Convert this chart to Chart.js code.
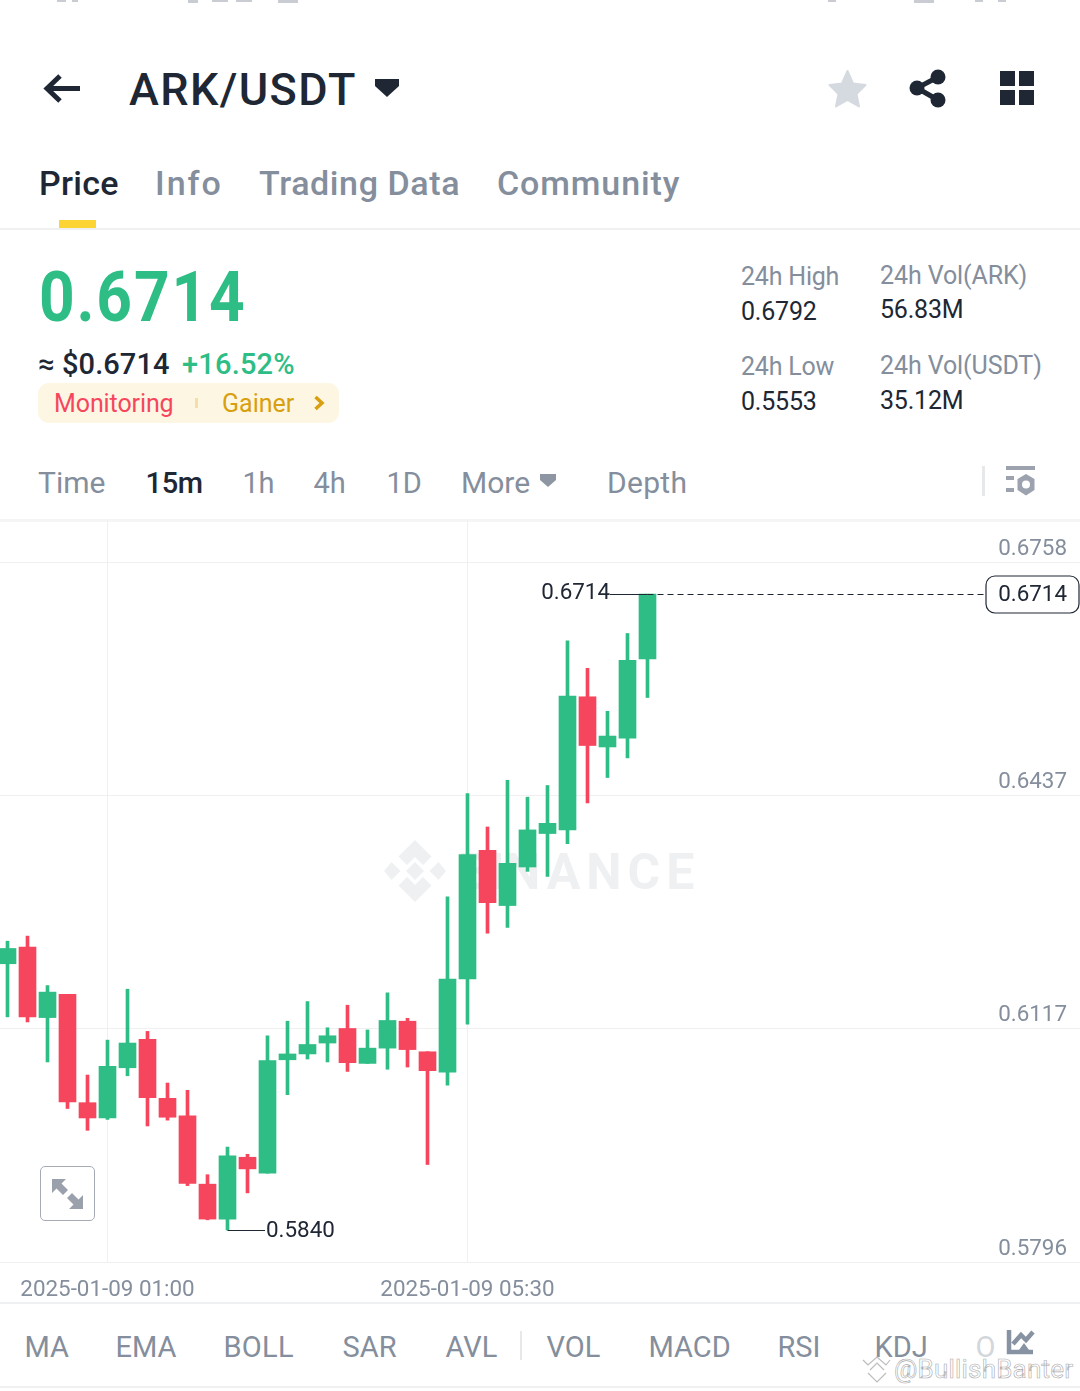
<!DOCTYPE html>
<html>
<head>
<meta charset="utf-8">
<title>ARK/USDT</title>
<script src="https://cdn.jsdelivr.net/npm/chart.js@4"></script>
<style>
  html, body { margin: 0; padding: 0; background: #fff; }
  #page { position: relative; width: 1080px; height: 1391px; overflow: hidden; background: #fff; font-family: Roboto, sans-serif; }
  .t { position: absolute; white-space: nowrap; line-height: 40px; height: 40px; color: #848E9C; }
  .d { color: #202734; }
  .g { color: #2EBD85; }
  .tab { font-size: 34px; font-weight: 500; letter-spacing: 0.6px; }
  .stat { font-size: 25px; }
  .per { font-size: 30px; }
  .per2 { font-size: 29px; }
  .ind { font-size: 29px; }
  .line { position: absolute; background: #EEF0F2; }
  svg { position: absolute; overflow: visible; }
  #chart { position: absolute; left: 0; top: 520px; z-index: 2; }
  #wm { position: absolute; left: 0; top: 0; z-index: 1; }
  #btn { position: absolute; left: 40px; top: 1166px; width: 53px; height: 53px; border: 1.5px solid #A5ABB6; border-radius: 5px; background: #fff; z-index: 3; }
</style>
</head>
<body>
<div id="page">
  <!-- clipped status bar -->
  <svg style="left:0;top:0" width="1080" height="4">
    <g fill="#C9CCD2">
      <rect x="57" y="0" width="9" height="2"/><rect x="72" y="0" width="6" height="2"/>
      <rect x="188" y="0" width="10" height="3"/><rect x="212" y="0" width="16" height="2"/><rect x="236" y="0" width="16" height="2"/>
      <rect x="278" y="0" width="20" height="3"/><rect x="828" y="0" width="8" height="2"/>
      <rect x="914" y="0" width="20" height="3"/><rect x="975" y="0" width="8" height="2"/><rect x="998" y="0" width="8" height="2"/>
    </g>
  </svg>

  <!-- header -->
  <svg style="left:0;top:0" width="1080" height="130">
    <path d="M80 88.5H48M60 76L47 88.5L60 101" fill="none" stroke="#202734" stroke-width="5"/>
    <path d="M375 79H399V86L387 97L375 86Z" fill="#202734"/>
    <path d="M847.5 71L853 83.500L865.500 85L856.500 94L859 106.500L847.5 100L836 106.500L838.500 94L829.500 85L842 83.500Z" fill="#D5D9E0" stroke="#D5D9E0" stroke-width="2" stroke-linejoin="round"/>
    <g fill="#202734"><circle cx="938" cy="77" r="7.500"/><circle cx="917" cy="88" r="7.500"/><circle cx="938" cy="100" r="7.500"/></g>
    <path d="M938 77L917 88L938 100" fill="none" stroke="#202734" stroke-width="5"/>
    <g fill="#202734"><rect x="1000" y="71" width="15" height="15"/><rect x="1019" y="71" width="15" height="15"/><rect x="1000" y="90" width="15" height="15"/><rect x="1019" y="90" width="15" height="15"/></g>
  </svg>
  <span class="t d" style="left:129px;top:70px;font-size:45px;font-weight:500;letter-spacing:1.400px">ARK/USDT</span>

  <span class="t d tab" style="left:39px;top:163px;letter-spacing:0.3px">Price</span>
  <span class="t tab" style="left:155px;top:163px;letter-spacing:2px">Info</span>
  <span class="t tab" style="left:259px;top:163px">Trading Data</span>
  <span class="t tab" style="left:497px;top:163px;letter-spacing:0.9px">Community</span>
  <div class="line" style="left:59px;top:220px;width:37px;height:8px;background:#FCD535"></div>
  <div class="line" style="left:0;top:228px;width:1080px;height:1.500px"></div>

  <!-- price block -->
  <span class="t g" style="left:39px;top:277px;font-size:70px;font-weight:700;letter-spacing:2px;transform:scaleX(0.89);transform-origin:left center">0.6714</span>
  <span class="t d" style="left:38px;top:344px;font-size:29px;font-weight:500;letter-spacing:0.100px">≈ $0.6714</span>
  <span class="t g" style="left:182px;top:344px;font-size:29px;font-weight:500;letter-spacing:0.200px">+16.52%</span>
  <div class="line" style="left:38px;top:383px;width:301px;height:40px;border-radius:11px;background:#FDF6E3"></div>
  <span class="t" style="left:54px;top:384px;font-size:25px;letter-spacing:-0.1px;color:#F6465D">Monitoring</span>
  <div class="line" style="left:195px;top:398px;width:3px;height:10px;background:#F5DFA6"></div>
  <span class="t" style="left:222px;top:384px;font-size:25px;color:#D89F0E">Gainer</span>
  <svg style="left:0;top:380px" width="340" height="50"><path d="M315.500 17L322 23L315.500 29" fill="none" stroke="#D89F0E" stroke-width="3.500"/></svg>

  <span class="t stat" style="left:741px;top:257px;letter-spacing:-0.2px">24h High</span>
  <span class="t stat d" style="left:741px;top:292px;letter-spacing:-0.2px">0.6792</span>
  <span class="t stat" style="left:880px;top:256px;letter-spacing:-0.1px">24h Vol(ARK)</span>
  <span class="t stat d" style="left:880px;top:290px;letter-spacing:-0.2px">56.83M</span>
  <span class="t stat" style="left:741px;top:347px;letter-spacing:-0.2px">24h Low</span>
  <span class="t stat d" style="left:741px;top:382px;letter-spacing:-0.2px">0.5553</span>
  <span class="t stat" style="left:880px;top:346px;letter-spacing:-0.1px">24h Vol(USDT)</span>
  <span class="t stat d" style="left:880px;top:381px;letter-spacing:-0.2px">35.12M</span>

  <!-- period selector -->
  <span class="t per" style="left:38px;top:463px">Time</span>
  <span class="t per2 d" style="left:145.500px;top:463px;font-weight:500;letter-spacing:-0.3px">15m</span>
  <span class="t per2" style="left:242.500px;top:463px;letter-spacing:-0.3px">1h</span>
  <span class="t per2" style="left:313.500px;top:463px">4h</span>
  <span class="t per2" style="left:386.500px;top:463px">1D</span>
  <span class="t per" style="left:461px;top:463px">More</span>
  <span class="t per" style="left:607px;top:463px;letter-spacing:0.3px">Depth</span>
  <svg style="left:0;top:460px" width="1080" height="40">
    <path d="M540 14H556V20L548 27L540 20Z" fill="#8F96A3"/>
    <rect x="982" y="6" width="3" height="30" fill="#E6E8EA"/>
    <g fill="#9CA3AF">
      <rect x="1006" y="6" width="29" height="4"/><rect x="1006" y="16" width="8" height="4"/><rect x="1006" y="28" width="8" height="4"/>
      <path d="M1026 14L1034.500 19V30L1026 35.500L1017.500 30V19ZM1026 20.500A4 4 0 1 0 1026 28.500A4 4 0 1 0 1026 20.500Z" fill-rule="evenodd"/>
    </g>
  </svg>
  <div class="line" style="left:0;top:519px;width:1080px;height:3px;background:#F5F5F5"></div>

  <!-- watermark behind the candles -->
  <svg id="wm" width="1080" height="1391">
    <g fill="#EEF0F2">
      <path d="M415 840L431.500 856.500L423 865L415 857L407 865L398.500 856.500Z"/>
      <path d="M415 902L431.500 885.500L423 877L415 885L407 877L398.500 885.500Z"/>
      <path d="M415 862L424 871L415 880L406 871Z"/>
      <path d="M391.500 862L400.500 871L391.500 880L384 871Z"/>
      <path d="M438.500 862L446 871L438.500 880L429.500 871Z"/>
    </g>
    <text x="458" y="888.500" font-family="Roboto" font-weight="700" font-size="50" fill="#EEF0F2">BI</text>
    <text x="505" y="888.500" font-family="Roboto" font-weight="700" font-size="50" letter-spacing="6" fill="#EEF0F2">NANCE</text>
  </svg>

  <canvas id="chart" width="1080" height="782"></canvas>

  <div id="btn"></div>
  <svg style="left:0;top:0;z-index:4" width="120" height="1240">
    <g fill="#9AA1AD">
      <path d="M52 1179H66L61.500 1183.500L68 1190L63 1195L56.500 1188.500L52 1193Z"/>
      <path d="M83 1209H69L73.500 1204.500L67 1198L72 1193L78.500 1199.500L83 1195Z"/>
    </g>
  </svg>

  <!-- indicator bar -->
  <div class="line" style="left:0;top:1302px;width:1080px;height:1.500px"></div>
  <div class="line" style="left:0;top:1386px;width:1080px;height:1.500px"></div>
  <div class="line" style="left:520px;top:1331px;width:1.500px;height:29px;background:#E6E8EA"></div>
  <span class="t ind" style="left:24.500px;top:1327px">MA</span>
  <span class="t ind" style="left:115.500px;top:1327px">EMA</span>
  <span class="t ind" style="left:223.500px;top:1327px;letter-spacing:0.3px">BOLL</span>
  <span class="t ind" style="left:342.500px;top:1327px">SAR</span>
  <span class="t ind" style="left:445.500px;top:1327px">AVL</span>
  <span class="t ind" style="left:546.500px;top:1327px">VOL</span>
  <span class="t ind" style="left:648.500px;top:1327px">MACD</span>
  <span class="t ind" style="left:777.500px;top:1327px">RSI</span>
  <span class="t ind" style="left:874.500px;top:1327px">KDJ</span>
  <span class="t ind" style="left:975.500px;top:1327px;color:#D3D6DB">O</span>
  <svg style="left:0;top:1320px" width="1080" height="40">
    <path d="M1009 10V32H1033M1013 24L1021 15L1026 20L1033 12" fill="none" stroke="#8792A2" stroke-width="4.500"/>
    <path d="M1019 30L1024 23L1029 30Z" fill="#8792A2"/>
  </svg>
  <svg style="left:0;top:1350px;z-index:4" width="900" height="40">
    <g fill="none" stroke="#BDBDBD" stroke-width="1.200">
      <path d="M863 10L868 15L877 7L886 15L890 10M870 20L877 13L884 20M868 23L877 32L886 23"/>
    </g>
  </svg>
  <span class="t" style="left:894px;top:1349px;font-size:26px;color:#fff;-webkit-text-stroke:0.600px #ABABAB;letter-spacing:0.200px;z-index:4">@BullishBanter</span>
</div>

<script>
// 15m candles, oldest first
const opens = [0.6206, 0.6229, 0.6132, 0.6164, 0.6015, 0.5994, 0.6063, 0.6102, 0.6021, 0.5997, 0.5903,
  0.5855, 0.5940, 0.5918, 0.6074, 0.6082, 0.6097, 0.6117, 0.6069, 0.6090, 0.6127, 0.6085,
  0.6057, 0.6185, 0.6362, 0.6286, 0.6339, 0.6385, 0.6390, 0.6573, 0.6504, 0.6516, 0.6625];
const highs = [0.6237, 0.6244, 0.6176, 0.6164, 0.6053, 0.6101, 0.6171, 0.6113, 0.6042, 0.6032, 0.5916,
  0.5954, 0.5944, 0.6107, 0.6127, 0.6154, 0.6118, 0.6149, 0.6115, 0.6166, 0.6131, 0.6085,
  0.6298, 0.6440, 0.6394, 0.6458, 0.6435, 0.6451, 0.6650, 0.6612, 0.6553, 0.6660, 0.6714];
const lows = [0.6133, 0.6126, 0.6071, 0.6007, 0.5977, 0.5992, 0.6052, 0.5983, 0.5991, 0.5901, 0.5854,
  0.5840, 0.5891, 0.5918, 0.6026, 0.6075, 0.6071, 0.6058, 0.6069, 0.6061, 0.6064, 0.5930,
  0.6039, 0.6123, 0.6248, 0.6256, 0.6333, 0.6326, 0.6371, 0.6427, 0.6462, 0.6489, 0.6572];
const closes = [0.6227, 0.6133, 0.6167, 0.6016, 0.5994, 0.6065, 0.6097, 0.6022, 0.5995, 0.5904, 0.5855,
  0.5942, 0.5924, 0.6073, 0.6082, 0.6095, 0.6107, 0.6070, 0.6090, 0.6128, 0.6088, 0.6059,
  0.6185, 0.6356, 0.6290, 0.6344, 0.6390, 0.6399, 0.6574, 0.6506, 0.6519, 0.6623, 0.6714];

const priceTicks = [0.5796, 0.6117, 0.6437, 0.6758];
const timeTickIndex = [5, 23];
const timeTickLabels = ["2025-01-09 01:00", "2025-01-09 05:30"];

const lastPrice = 0.6714;
const highPrice = 0.6714;
const lowPrice = 0.5840;
const highIndex = 32;
const lowIndex = 11;

const UP = "#2EBD85";
const DOWN = "#F6465D";
const LABEL = "#848E9C";
const DARK = "#202734";
const FONT = "22.4px Roboto";

const candleIndex = opens.map((_, i) => i);
const candleColors = candleIndex.map((i) => (closes[i] >= opens[i] ? UP : DOWN));

// High / low callouts and the last price line with its pill
const markers = {
  id: "markers",
  afterDatasetsDraw(chart) {
    const { ctx, scales: { x, y } } = chart;
    const lastY = Math.round(y.getPixelForValue(lastPrice)) + 0.5;
    const highY = Math.round(y.getPixelForValue(highPrice)) + 0.5;
    const lowY = Math.round(y.getPixelForValue(lowPrice)) + 0.5;
    ctx.save();
    ctx.font = FONT;
    ctx.textBaseline = "middle";
    ctx.lineWidth = 1.2;

    ctx.strokeStyle = DARK;
    ctx.setLineDash([6, 4]);
    ctx.beginPath();
    ctx.moveTo(x.getPixelForValue(highIndex), lastY);
    ctx.lineTo(985, lastY);
    ctx.stroke();
    ctx.setLineDash([]);

    ctx.beginPath();
    ctx.roundRect(986, lastY - 18.5, 93, 37, 9);
    ctx.fillStyle = "#fff";
    ctx.fill();
    ctx.stroke();
    ctx.fillStyle = DARK;
    ctx.textAlign = "right";
    ctx.fillText(lastPrice.toFixed(4), 1067, lastY + 1);

    ctx.beginPath();
    ctx.moveTo(610, highY);
    ctx.lineTo(x.getPixelForValue(highIndex), highY);
    ctx.stroke();
    ctx.fillText(highPrice.toFixed(4), 610, highY - 1);

    ctx.beginPath();
    ctx.moveTo(x.getPixelForValue(lowIndex), lowY);
    ctx.lineTo(265, lowY);
    ctx.stroke();
    ctx.textAlign = "left";
    ctx.fillText(lowPrice.toFixed(4), 266, lowY + 1);
    ctx.restore();
  },
};

new Chart(document.getElementById("chart"), {
  type: "bar",
  data: {
    datasets: [
      {
        label: "body",
        data: candleIndex.map((i) => ({ x: i, y: [opens[i], closes[i]] })),
        backgroundColor: candleColors,
        barThickness: 17,
        grouped: false,
      },
      {
        label: "wick",
        data: candleIndex.map((i) => ({ x: i, y: [lows[i], highs[i]] })),
        backgroundColor: candleColors,
        barThickness: 3,
        grouped: false,
      },
    ],
  },
  options: {
    responsive: false,
    animation: false,
    layout: { padding: 0 },
    plugins: { legend: { display: false }, tooltip: { enabled: false } },
    scales: {
      x: {
        type: "linear",
        offset: false,
        min: -0.375,
        max: 53.625,
        afterBuildTicks(scale) {
          scale.ticks = timeTickIndex.map((value) => ({ value }));
        },
        // keep the plot edge to edge, the default label padding would inset it
        afterFit(scale) {
          scale.height = 40;
          scale.paddingLeft = 0;
          scale.paddingRight = 0;
        },
        grid: { color: "#EEF0F2", offset: false, drawTicks: false },
        border: { display: false },
        ticks: {
          color: LABEL,
          font: { family: "Roboto", size: 22.4 },
          padding: 15,
          maxRotation: 0,
          autoSkip: false,
          callback: (value) => timeTickLabels[timeTickIndex.indexOf(value)],
        },
      },
      y: {
        position: "right",
        min: 0.5796,
        max: 0.6816,
        afterBuildTicks(scale) {
          scale.ticks = priceTicks.map((value) => ({ value }));
        },
        afterFit(scale) {
          scale.width = 0;
          scale.paddingTop = 0;
          scale.paddingBottom = 0;
        },
        grid: { color: "#EEF0F2", drawTicks: false },
        border: { display: false },
        ticks: {
          mirror: true,
          color: LABEL,
          font: { family: "Roboto", size: 22.4 },
          padding: -13,
          labelOffset: -13,
          callback: (value) => value.toFixed(4),
        },
      },
    },
  },
  plugins: [markers],
});
</script>
</body>
</html>
